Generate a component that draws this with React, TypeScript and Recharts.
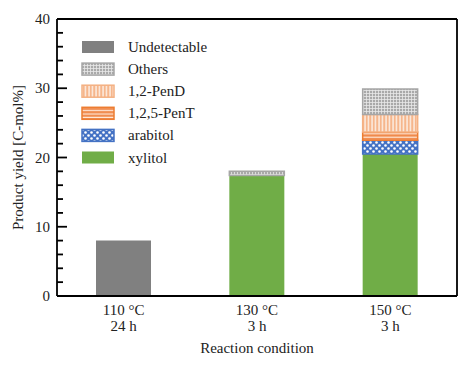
import React from "react";
import { BarChart, Bar, XAxis, YAxis, Legend, ReferenceLine } from "recharts";

const temps = ["110 °C", "130 °C", "150 °C"];
const times = ["24 h", "3 h", "3 h"];
const undetectable = [8, 0, 0];
const others = [0, 0.6, 3.7];
const penD = [0, 0, 2.5];
const penT = [0, 0, 1.2];
const arabitol = [0, 0, 2.0];
const xylitol = [0, 17.4, 20.5];
const yTicks = [0, 2, 4, 6, 8, 10, 12, 14, 16, 18, 20, 22, 24, 26, 28, 30, 32, 34, 36, 38, 40];

const data = temps.map((t, i) => ({
  temp: t,
  time: times[i],
  xylitol: xylitol[i],
  arabitol: arabitol[i],
  penT: penT[i],
  penD: penD[i],
  others: others[i],
  undetectable: undetectable[i],
}));

// stack order bottom -> top
const series = [
  { key: "xylitol", name: "xylitol", fill: "#70AD47", stroke: "none" },
  { key: "arabitol", name: "arabitol", fill: "url(#patArab)", stroke: "#4472C4" },
  { key: "penT", name: "1,2,5-PenT", fill: "url(#patPenT)", stroke: "#ED7D31" },
  { key: "penD", name: "1,2-PenD", fill: "url(#patPenD)", stroke: "#F4B183" },
  { key: "others", name: "Others", fill: "url(#patOthers)", stroke: "#A6A6A6" },
  { key: "undetectable", name: "Undetectable", fill: "#808080", stroke: "none" },
];

const FONT = "'Liberation Serif', 'Times New Roman', serif";
const S = 2;
const AX = 1.8 * S;
const FS = 15 * S;

const LeftTick = (props: any) => {
  const { x, y, payload } = props;
  const major = payload.value % 10 === 0;
  return (
    <g>
      {payload.value !== 0 && payload.value !== 40 && (
        <line x1={x} x2={x + (major ? 10 : 6) * S} y1={y} y2={y} stroke="#000" strokeWidth={AX} />
      )}
      {major && (
        <text x={x - 7 * S} y={y + 5 * S} textAnchor="end" fontSize={FS} fill="#222" fontFamily={FONT}>
          {payload.value}
        </text>
      )}
    </g>
  );
};

const RightTick = (props: any) => {
  const { x, y, payload } = props;
  const major = payload.value % 10 === 0;
  if (payload.value === 0 || payload.value === 40) return <g />;
  return <line x1={x} x2={x - (major ? 10 : 6) * S} y1={y} y2={y} stroke="#000" strokeWidth={AX} />;
};

const XTick = (props: any) => {
  const { x, y, index } = props;
  return (
    <text x={x} y={y} textAnchor="middle" fontSize={FS} fill="#222" fontFamily={FONT}>
      <tspan x={x} dy={19 * S}>{temps[index]}</tspan>
      <tspan x={x} dy={16 * S}>{times[index]}</tspan>
    </text>
  );
};

const LegendContent = () => {
  const rows = [...series].reverse();
  return (
    <svg width={160 * S} height={135 * S} style={{ display: "block" }}>
      {rows.map((s, i) => {
        const cy = (9 + i * 22.1) * S;
        return (
          <g key={s.key}>
            <rect x={1 * S} y={cy - 6 * S} width={32 * S} height={12 * S} fill={s.fill} stroke={s.stroke === "none" ? "none" : s.stroke} strokeWidth={1.5 * S} />
            <text x={47 * S} y={cy + 5 * S} fontSize={FS} fill="#222" fontFamily={FONT}>{s.name}</text>
          </g>
        );
      })}
    </svg>
  );
};

export default function App() {
  return (
    <div style={{ position: "absolute", left: 0, top: 0, width: 474 }}>
      <div style={{ width: 474, height: 365, overflow: "hidden", display: "inline-block", position: "relative" }}>
        <div style={{ transform: `scale(${1 / S})`, transformOrigin: "0 0", width: 474 * S, height: 365 * S }}>
          <BarChart width={474 * S} height={365 * S} data={data} margin={{ top: 19 * S, right: 0, left: 0, bottom: 0 }} barSize={55 * S}>
            <defs>
              <pattern id="patOthers" patternUnits="userSpaceOnUse" width={3 * S} height={3 * S}>
                <rect width={3 * S} height={3 * S} fill="#A9A9A9" />
                <line x1={0} y1={0.5 * S} x2={3 * S} y2={0.5 * S} stroke="#E8E8E8" strokeWidth={0.8 * S} />
                <line x1={0.5 * S} y1={0} x2={0.5 * S} y2={3 * S} stroke="#E8E8E8" strokeWidth={0.8 * S} />
              </pattern>
              <pattern id="patPenD" patternUnits="userSpaceOnUse" width={3.5 * S} height={3.5 * S}>
                <rect width={3.5 * S} height={3.5 * S} fill="#F6B68C" />
                <line x1={1 * S} y1={0} x2={1 * S} y2={3.5 * S} stroke="#FFFFFF" strokeWidth={1.1 * S} />
              </pattern>
              <pattern id="patPenT" patternUnits="userSpaceOnUse" width={4 * S} height={3.4 * S}>
                <rect width={4 * S} height={3.4 * S} fill="#F0894A" />
                <line x1={0} y1={1.2 * S} x2={4 * S} y2={1.2 * S} stroke="#FFE9DA" strokeWidth={1.2 * S} />
              </pattern>
              <pattern id="patArab" patternUnits="userSpaceOnUse" width={6 * S} height={6 * S}>
                <rect width={6 * S} height={6 * S} fill="#4472C4" />
                <circle cx={1.5 * S} cy={1.5 * S} r={1.3 * S} fill="#FFFFFF" />
                <circle cx={4.5 * S} cy={4.5 * S} r={1.3 * S} fill="#FFFFFF" />
              </pattern>
            </defs>
            <XAxis
              dataKey="temp"
              height={69 * S}
              tickLine={false}
              tickSize={0}
              tickMargin={0}
              axisLine={{ stroke: "#000", strokeWidth: AX }}
              tick={<XTick />}
              interval={0}
              label={(p: any) => {
                const vb = p.viewBox;
                return (
                  <text x={vb.x + vb.width / 2} y={vb.y + 57 * S} textAnchor="middle" fontSize={FS} fill="#222" fontFamily={FONT}>
                    Reaction condition
                  </text>
                );
              }}
            />
            <YAxis
              yAxisId="left"
              domain={[0, 40]}
              ticks={yTicks}
              interval={0}
              width={57 * S}
              tickLine={false}
              tickSize={0}
              tickMargin={0}
              axisLine={{ stroke: "#000", strokeWidth: AX }}
              tick={<LeftTick />}
              label={(p: any) => {
                const vb = p.viewBox;
                const cx = 18 * S;
                const cy = vb.y + vb.height / 2;
                return (
                  <text x={cx} y={cy} transform={`rotate(-90 ${cx} ${cy})`} textAnchor="middle" dominantBaseline="central" fontSize={FS} fill="#222" fontFamily={FONT}>
                    Product yield [C-mol%]
                  </text>
                );
              }}
            />
            <YAxis
              yAxisId="right"
              orientation="right"
              domain={[0, 40]}
              ticks={yTicks}
              interval={0}
              width={17 * S}
              tickLine={false}
              tickSize={0}
              tickMargin={0}
              axisLine={{ stroke: "#000", strokeWidth: AX }}
              tick={<RightTick />}
            />
            <ReferenceLine yAxisId="left" y={40} stroke="#000" strokeWidth={AX} />
            <Legend
              layout="vertical"
              verticalAlign="middle"
              align="center"
              content={<LegendContent />}
              wrapperStyle={{ left: 81 * S, top: 38 * S, width: 160 * S }}
            />
            {series.map((s) => (
              <Bar
                key={s.key}
                yAxisId="left"
                dataKey={s.key}
                name={s.name}
                stackId="a"
                fill={s.fill}
                stroke={s.stroke}
                strokeWidth={s.stroke === "none" ? 0 : 1.5 * S}
                isAnimationActive={false}
              />
            ))}
          </BarChart>
        </div>
      </div>
    </div>
  );
}
